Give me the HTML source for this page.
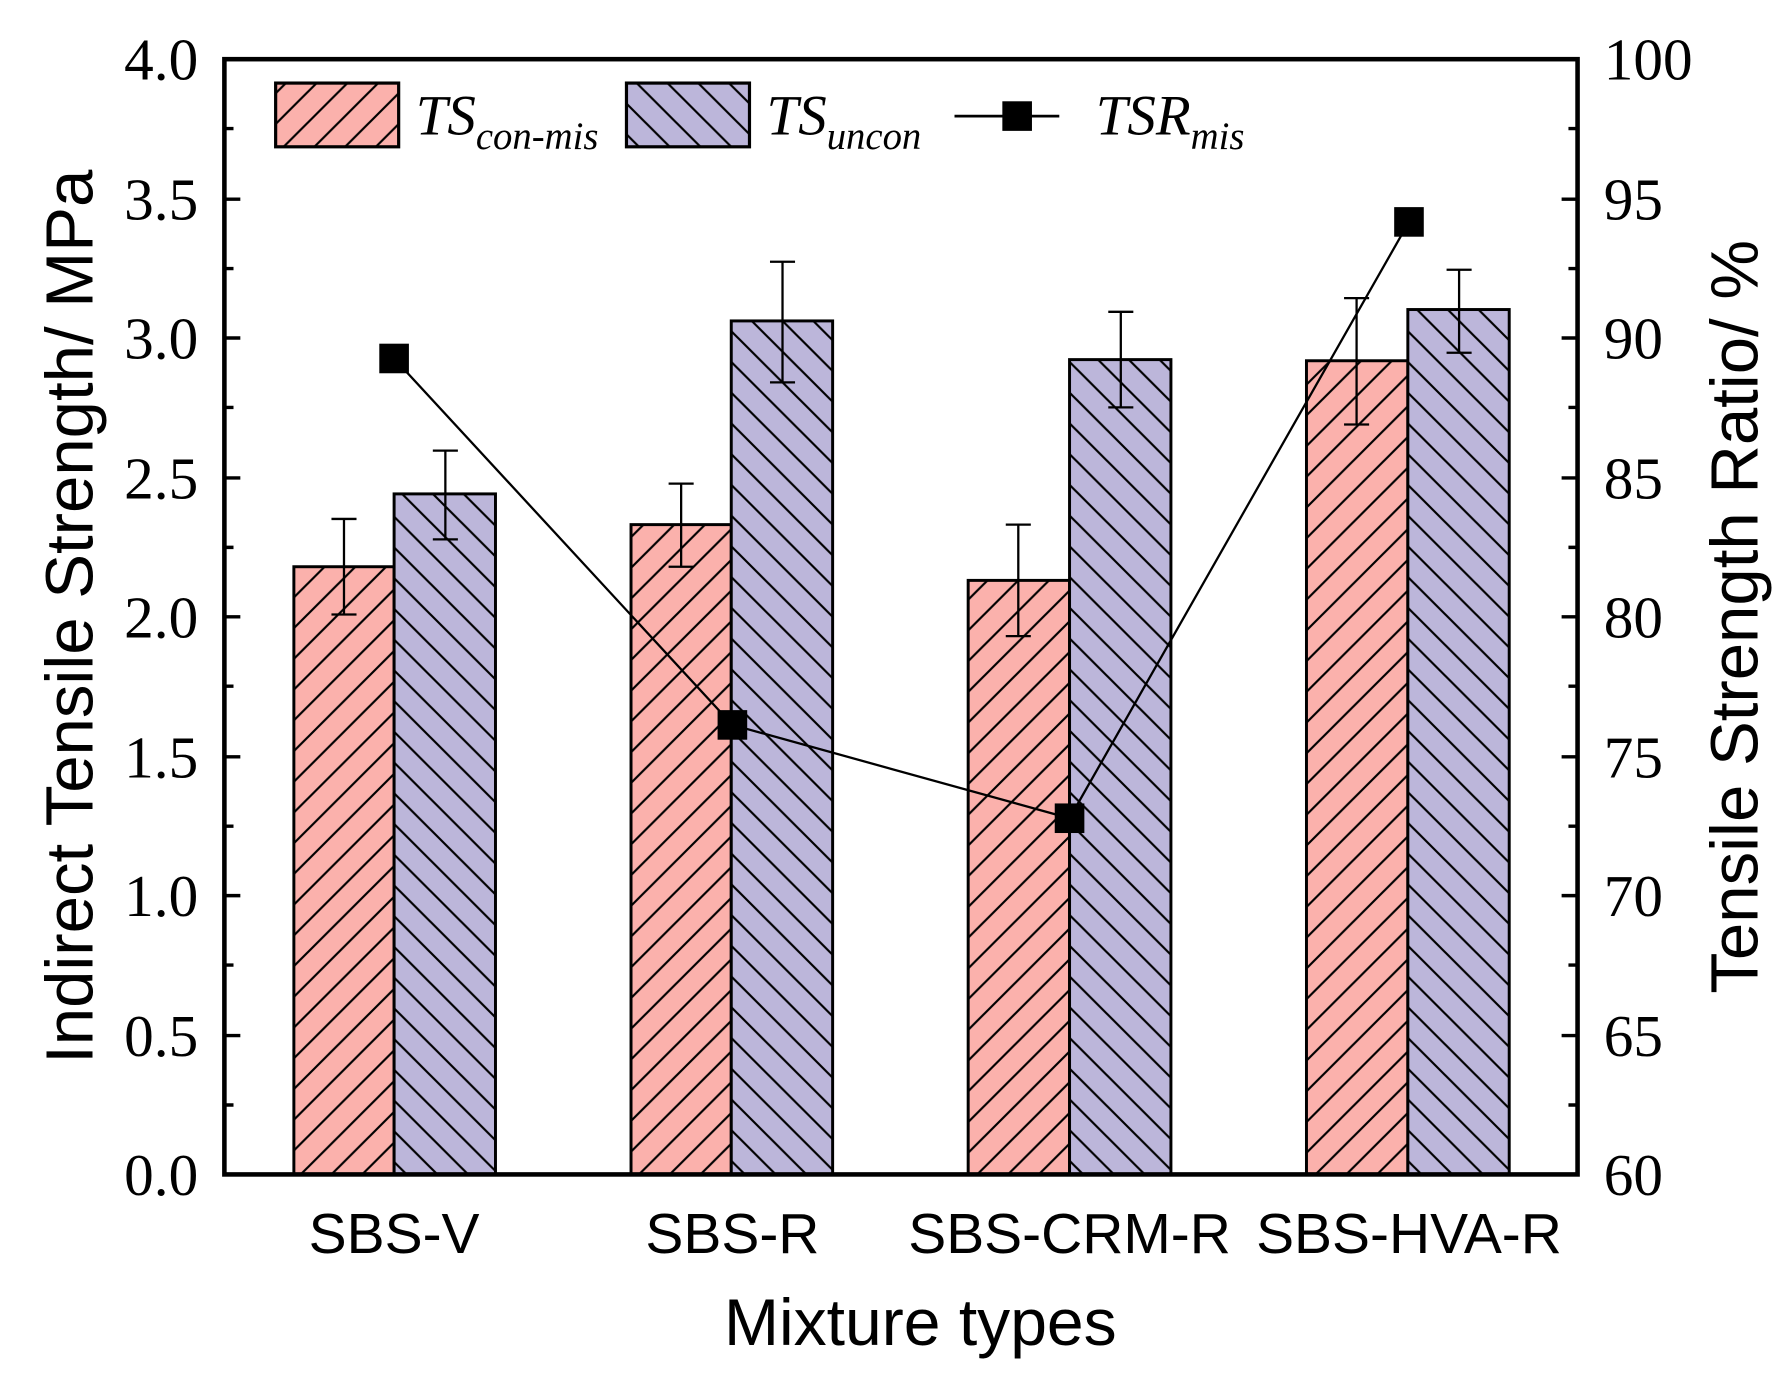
<!DOCTYPE html>
<html><head><meta charset="utf-8"><style>
html,body{margin:0;padding:0;background:#fff}
svg{display:block}
</style></head><body>
<svg width="1786" height="1377" viewBox="0 0 1568 1210" preserveAspectRatio="none" xmlns="http://www.w3.org/2000/svg">
<defs>
<pattern id="pk" patternUnits="userSpaceOnUse" width="27" height="27">
<rect width="27" height="27" fill="#fbb1ac"/>
<path d="M-5,5 L5,-5 M0,27 L27,0 M22,32 L32,22" stroke="#000" stroke-width="1.9"/>
</pattern>
<pattern id="pu" patternUnits="userSpaceOnUse" width="27" height="27">
<rect width="27" height="27" fill="#bcb6da"/>
<path d="M-5,22 L5,32 M0,0 L27,27 M22,-5 L32,5" stroke="#000" stroke-width="1.9"/>
</pattern>
</defs>
<g stroke="#000" stroke-width="2.6">
<rect x="258" y="498" width="88" height="534" fill="url(#pk)"/>
<rect x="346" y="434" width="89" height="598" fill="url(#pu)"/>
<rect x="554" y="461" width="88" height="571" fill="url(#pk)"/>
<rect x="642" y="282" width="89" height="750" fill="url(#pu)"/>
<rect x="850" y="510" width="89" height="522" fill="url(#pk)"/>
<rect x="939" y="316" width="89" height="716" fill="url(#pu)"/>
<rect x="1147" y="317" width="89" height="715" fill="url(#pk)"/>
<rect x="1236" y="272" width="89" height="760" fill="url(#pu)"/>
</g>
<g stroke="#000" stroke-width="2" fill="none">
<path d="M302,540V456M291,540h22M291,456h22"/>
<path d="M391,474V396M380,474h22M380,396h22"/>
<path d="M598,498V425M587,498h22M587,425h22"/>
<path d="M687,336V230M676,336h22M676,230h22"/>
<path d="M894,559V461M883,559h22M883,461h22"/>
<path d="M984,358V274M973,358h22M973,274h22"/>
<path d="M1191,373V262M1180,373h22M1180,262h22"/>
<path d="M1281,310V237M1270,310h22M1270,237h22"/>
<polyline points="346,315 643,637 939,719 1237,195" stroke-width="2"/>
</g>
<g fill="#000">
<rect x="333" y="302" width="26" height="26"/>
<rect x="630" y="624" width="26" height="26"/>
<rect x="926" y="706" width="26" height="26"/>
<rect x="1224" y="182" width="26" height="26"/>
</g>
<rect x="197" y="52" width="1188" height="980" fill="none" stroke="#000" stroke-width="4"/>
<g stroke="#000" stroke-width="3">
<path d="M197,52h14M197,175h14M197,297h14M197,420h14M197,542h14M197,665h14M197,787h14M197,910h14
M197,113h8M197,236h8M197,358h8M197,481h8M197,603h8M197,726h8M197,848h8M197,971h8
M1385,52h-14M1385,175h-14M1385,297h-14M1385,420h-14M1385,542h-14M1385,665h-14M1385,787h-14M1385,910h-14
M1385,113h-8M1385,236h-8M1385,358h-8M1385,481h-8M1385,603h-8M1385,726h-8M1385,848h-8M1385,971h-8"/>
</g>
<g font-family="Liberation Serif, serif" font-size="52" fill="#000">
<g text-anchor="end">
<text x="174" y="1050">0.0</text><text x="174" y="928">0.5</text><text x="174" y="805">1.0</text><text x="174" y="683">1.5</text>
<text x="174" y="560">2.0</text><text x="174" y="438">2.5</text><text x="174" y="315">3.0</text><text x="174" y="193">3.5</text><text x="174" y="70">4.0</text>
</g>
<text x="1408" y="1050">60</text><text x="1408" y="928">65</text><text x="1408" y="805">70</text><text x="1408" y="683">75</text>
<text x="1408" y="560">80</text><text x="1408" y="438">85</text><text x="1408" y="315">90</text><text x="1408" y="193">95</text><text x="1408" y="70">100</text>
</g>
<g font-family="Liberation Sans, sans-serif" font-size="50" text-anchor="middle" fill="#000">
<text x="346" y="1101">SBS-V</text><text x="643" y="1101">SBS-R</text><text x="939" y="1101">SBS-CRM-R</text><text x="1237" y="1101">SBS-HVA-R</text>
<text x="808" y="1182" font-size="58">Mixture types</text>
<text transform="translate(81,542) rotate(-90)" font-size="59">Indirect Tensile Strength/ MPa</text>
<text transform="translate(1543,542) rotate(-90)" font-size="59">Tensile Strength Ratio/ %</text>
</g>
<rect x="242" y="73" width="108" height="56" fill="url(#pk)" stroke="#000" stroke-width="2.8"/>
<rect x="550" y="73" width="108" height="56" fill="url(#pu)" stroke="#000" stroke-width="2.8"/>
<path d="M838,102h92" stroke="#000" stroke-width="2.4"/>
<rect x="880" y="89" width="26" height="26"/>
<g font-family="Liberation Serif, serif" font-style="italic" fill="#000" font-size="50">
<text x="365" y="118">TS<tspan font-size="34" dy="13">con-mis</tspan></text>
<text x="673" y="118">TS<tspan font-size="34" dy="13">uncon</tspan></text>
<text x="962" y="118">TSR<tspan font-size="34" dy="13">mis</tspan></text>
</g>
</svg>
</body></html>
